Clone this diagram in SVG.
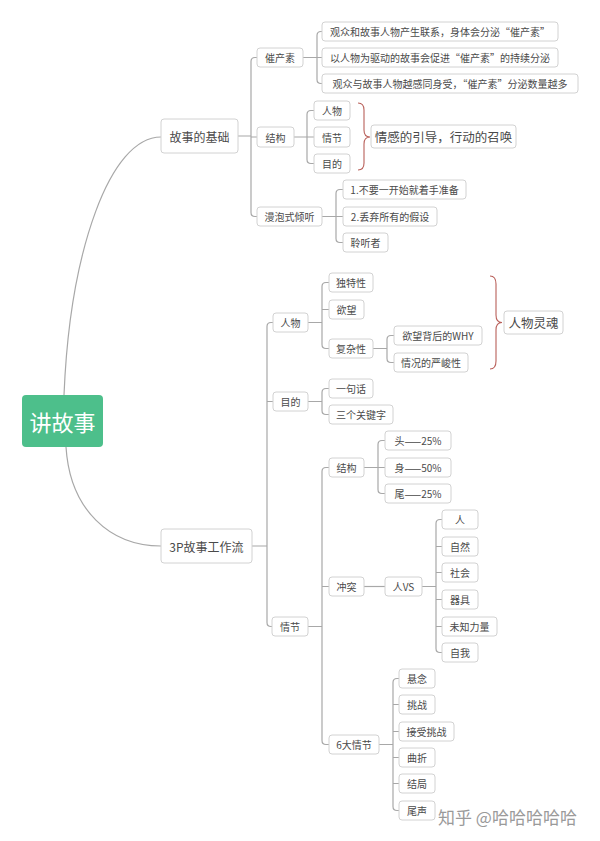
<svg xmlns="http://www.w3.org/2000/svg" width="600" height="841" viewBox="0 0 600 841">
<style>
text{font-family:"Noto Sans CJK SC","Liberation Sans",sans-serif;fill:#4a4a4a;text-anchor:middle;dominant-baseline:central}
.b rect{fill:#fff;stroke:#d2d2d2;stroke-width:1}
.t{font-size:10px}
.m{font-size:12px}
.l{font-size:12.5px}
.c path{fill:none;stroke:#a8a8a8;stroke-width:1.2}
.br{fill:none;stroke:#b9605a;stroke-width:1.1}
</style>
<rect width="600" height="841" fill="#fff"/>
<g class="c" id="connectors">
<path d="M64 395 C70 250 110 137 161 137"/>
<path d="M66 447 C70 510 110 546 161 546"/>
<path d="M238 136 H251 M257 57.5 H255 Q251 57.5 251 61.5 V212.5 Q251 216.5 255 216.5 H257 M251 137 H257"/>
<path d="M303 57.5 H317 M322 31.5 H321 Q317 31.5 317 35.5 V79.5 Q317 83.5 321 83.5 H322 M317 57.5 H322"/>
<path d="M294 137 H307 M314 110.5 H311 Q307 110.5 307 114.5 V159.5 Q307 163.5 311 163.5 H314 M307 137 H314"/>
<path d="M322 216.5 H336 M343 189.5 H340 Q336 189.5 336 193.5 V238.5 Q336 242.5 340 242.5 H343 M336 216.5 H343"/>
<path d="M252 546 H267 M273 322.5 H271 Q267 322.5 267 326.5 V622.5 Q267 626.5 271 626.5 H272 M267 401.5 H273"/>
<path d="M308 322.5 H322 M329 282.5 H326 Q322 282.5 322 286.5 V344.5 Q322 348.5 326 348.5 H329 M322 309.5 H329"/>
<path d="M373 348.5 H387 M394 335.5 H391 Q387 335.5 387 339.5 V358.5 Q387 362.5 391 362.5 H394"/>
<path d="M308 401.5 H322 M329 388.5 H326 Q322 388.5 322 392.5 V410.5 Q322 414.5 326 414.5 H329"/>
<path d="M308 626.5 H322 M329 467.5 H326 Q322 467.5 322 471.5 V740.5 Q322 744.5 326 744.5 H329 M322 586.5 H329"/>
<path d="M364 467.5 H378 M385 440.5 H382 Q378 440.5 378 444.5 V489.5 Q378 493.5 382 493.5 H385 M378 467.5 H385"/>
<path d="M364 586.5 H385"/>
<path d="M422 586.5 H436 M442 519.5 H440 Q436 519.5 436 523.5 V648.5 Q436 652.5 440 652.5 H442 M436 546.5 H442 M436 572.5 H442 M436 599.5 H442 M436 626.5 H442"/>
<path d="M379 744.5 H393 M399 678.5 H397 Q393 678.5 393 682.5 V806.5 Q393 810.5 397 810.5 H399 M393 704.5 H399 M393 731.5 H399 M393 757.5 H399 M393 783.5 H399"/>
</g>
<path class="br" d="M358 103 Q364 103 364 110 V130 Q364 137 370 137 Q364 137 364 144 V163 Q364 170 358 170"/>
<path class="br" d="M490 276 Q496 276 496 284 V315 Q496 322.5 502 322.5 Q496 322.5 496 330 V361 Q496 369 490 369"/>
<g id="root"><rect x="22" y="395" width="81" height="52" rx="4" fill="#4dbf8b"/><text x="62.5" y="421" style="font-size:22px;fill:#fff">讲故事</text></g>
<g class="b">
<g id="n-base"><rect x="161" y="119" width="77" height="34" rx="3"/><text class="m" x="199.5" y="136">故事的基础</text></g>
<g id="n-3p"><rect x="161" y="529" width="91" height="34" rx="3"/><text class="m" x="206.5" y="546">3P故事工作流</text></g>
<g id="n-oxy"><rect x="257" y="48" width="46" height="19" rx="3"/><text class="t" x="280" y="57.5">催产素</text></g>
<g id="n-struct1"><rect x="257" y="127" width="37" height="20" rx="3"/><text class="t" x="275.5" y="137">结构</text></g>
<g id="n-listen"><rect x="257" y="207" width="65" height="19" rx="3"/><text class="t" x="289.5" y="216.5">漫泡式倾听</text></g>
<g id="n-oxy1"><rect x="322" y="22" width="236" height="19" rx="3"/><text class="t" x="440" y="31.5">观众和故事人物产生联系，身体会分泌“催产素”</text></g>
<g id="n-oxy2"><rect x="322" y="48" width="236" height="19" rx="3"/><text class="t" x="440" y="57.5">以人物为驱动的故事会促进“催产素”的持续分泌</text></g>
<g id="n-oxy3"><rect x="322" y="74" width="256" height="19" rx="3"/><text class="t" x="450" y="83.5">观众与故事人物越感同身受，“催产素”分泌数量越多</text></g>
<g id="n-s-char"><rect x="314" y="101" width="36" height="19" rx="3"/><text class="t" x="332" y="110.5">人物</text></g>
<g id="n-s-plot"><rect x="314" y="127" width="36" height="20" rx="3"/><text class="t" x="332" y="137">情节</text></g>
<g id="n-s-goal"><rect x="314" y="154" width="36" height="19" rx="3"/><text class="t" x="332" y="163.5">目的</text></g>
<g id="n-emotion"><rect x="371" y="125" width="145" height="23" rx="3"/><text class="l" x="443.5" y="136.5">情感的引导，行动的召唤</text></g>
<g id="n-l1"><rect x="343" y="180" width="123" height="19" rx="3"/><text class="t" x="404.5" y="189.5">1.不要一开始就着手准备</text></g>
<g id="n-l2"><rect x="343" y="207" width="94" height="19" rx="3"/><text class="t" x="390" y="216.5">2.丢弃所有的假设</text></g>
<g id="n-l3"><rect x="343" y="233" width="45" height="19" rx="3"/><text class="t" x="365.5" y="242.5">聆听者</text></g>
<g id="n-char"><rect x="273" y="313" width="35" height="19" rx="3"/><text class="t" x="290.5" y="322.5">人物</text></g>
<g id="n-unique"><rect x="329" y="273" width="44" height="19" rx="3"/><text class="t" x="351" y="282.5">独特性</text></g>
<g id="n-desire"><rect x="329" y="300" width="35" height="19" rx="3"/><text class="t" x="346.5" y="309.5">欲望</text></g>
<g id="n-complex"><rect x="329" y="339" width="44" height="19" rx="3"/><text class="t" x="351" y="348.5">复杂性</text></g>
<g id="n-why"><rect x="394" y="326" width="88" height="19" rx="3"/><text class="t" x="438" y="335.5">欲望背后的WHY</text></g>
<g id="n-severe"><rect x="394" y="353" width="74" height="19" rx="3"/><text class="t" x="431" y="362.5">情况的严峻性</text></g>
<g id="n-soul"><rect x="504" y="311" width="59" height="23" rx="3"/><text class="l" x="533.5" y="322.5">人物灵魂</text></g>
<g id="n-goal"><rect x="273" y="392" width="35" height="19" rx="3"/><text class="t" x="290.5" y="401.5">目的</text></g>
<g id="n-sentence"><rect x="329" y="379" width="44" height="19" rx="3"/><text class="t" x="351" y="388.5">一句话</text></g>
<g id="n-keywords"><rect x="329" y="405" width="64" height="19" rx="3"/><text class="t" x="361" y="414.5">三个关键字</text></g>
<g id="n-plot"><rect x="272" y="617" width="36" height="19" rx="3"/><text class="t" x="290" y="626.5">情节</text></g>
<g id="n-struct2"><rect x="329" y="458" width="35" height="19" rx="3"/><text class="t" x="346.5" y="467.5">结构</text></g>
<g id="n-head"><rect x="385" y="431" width="66" height="19" rx="3"/><text class="t" x="418" y="440.5">头——25%</text></g>
<g id="n-body"><rect x="385" y="458" width="66" height="19" rx="3"/><text class="t" x="418" y="467.5">身——50%</text></g>
<g id="n-tail"><rect x="385" y="484" width="66" height="19" rx="3"/><text class="t" x="418" y="493.5">尾——25%</text></g>
<g id="n-conflict"><rect x="329" y="577" width="35" height="19" rx="3"/><text class="t" x="346.5" y="586.5">冲突</text></g>
<g id="n-vs"><rect x="385" y="577" width="37" height="19" rx="3"/><text class="t" x="403.5" y="586.5">人VS</text></g>
<g id="n-vs1"><rect x="442" y="510" width="36" height="19" rx="3"/><text class="t" x="460" y="519.5">人</text></g>
<g id="n-vs2"><rect x="442" y="537" width="36" height="19" rx="3"/><text class="t" x="460" y="546.5">自然</text></g>
<g id="n-vs3"><rect x="442" y="563" width="36" height="19" rx="3"/><text class="t" x="460" y="572.5">社会</text></g>
<g id="n-vs4"><rect x="442" y="590" width="36" height="19" rx="3"/><text class="t" x="460" y="599.5">器具</text></g>
<g id="n-vs5"><rect x="442" y="617" width="55" height="19" rx="3"/><text class="t" x="469.5" y="626.5">未知力量</text></g>
<g id="n-vs6"><rect x="442" y="643" width="36" height="19" rx="3"/><text class="t" x="460" y="652.5">自我</text></g>
<g id="n-six"><rect x="329" y="735" width="50" height="19" rx="3"/><text class="t" x="354" y="744.5">6大情节</text></g>
<g id="n-p1"><rect x="399" y="669" width="36" height="19" rx="3"/><text class="t" x="417" y="678.5">悬念</text></g>
<g id="n-p2"><rect x="399" y="695" width="36" height="19" rx="3"/><text class="t" x="417" y="704.5">挑战</text></g>
<g id="n-p3"><rect x="399" y="722" width="55" height="19" rx="3"/><text class="t" x="426.5" y="731.5">接受挑战</text></g>
<g id="n-p4"><rect x="399" y="748" width="36" height="19" rx="3"/><text class="t" x="417" y="757.5">曲折</text></g>
<g id="n-p5"><rect x="399" y="774" width="36" height="19" rx="3"/><text class="t" x="417" y="783.5">结局</text></g>
<g id="n-p6"><rect x="399" y="801" width="36" height="19" rx="3"/><text class="t" x="417" y="810.5">尾声</text></g>
</g>
<text x="438" y="816" style="font-size:17px;fill:#9a9a9a;text-anchor:start">知乎 @哈哈哈哈哈</text>
</svg>
